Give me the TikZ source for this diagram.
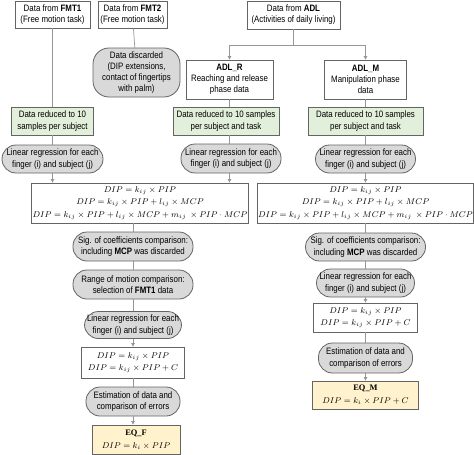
\RequirePackage{fix-cm}
\documentclass[tikz,border=0pt]{standalone}
\usepackage{fontspec}
\usepackage{amsmath}
\setmainfont{Liberation Sans}[FakeStretch=0.85]
\newfontfamily\eqfont{Liberation Serif}
\usetikzlibrary{arrows.meta,calc}

\definecolor{boxgray}{RGB}{100,100,100}
\definecolor{linegray}{RGB}{150,150,150}
\definecolor{roundgray}{RGB}{217,217,217}
\definecolor{redgreen}{RGB}{226,239,218}
\definecolor{endyellow}{RGB}{255,242,204}

\newcommand{\txt}{\fontsize{9.3}{11.2}\selectfont}
\newcommand{\eqs}{\fontsize{8.4}{12.6}\selectfont}

\begin{document}
\begin{tikzpicture}[x=1pt, y=-1pt]

        \useasboundingbox (0,0) rectangle (474,455);

        % Box styles, sizes are given with each node
        \tikzset{
            base/.style={draw=boxgray, line width=0.8pt, align=center,
                inner sep=1pt, font=\txt},
            plainbox/.style={base, fill=white},
            redbox/.style={base, fill=redgreen},
            roundbox/.style={base, fill=roundgray, rounded corners=14pt},
            eqbox/.style={base, fill=white, font=\eqs},
            endbox/.style={base, fill=endyellow, font=\eqs},
            link/.style={draw=linegray, line width=0.7pt},
            arr/.style={link, -{Triangle[length=3.5pt,width=3.5pt]}}
        }

        % Left column (FMT1 / FMT2)
        \begin{scope}
            \node[plainbox, minimum width=75, minimum height=27] (fmtA)
            at (52.5, 14.5) {Data from \textbf{FMT1}\\(Free motion task)};
            \node[plainbox, minimum width=69, minimum height=27] (fmtB)
            at (132.5, 14.5) {Data from \textbf{FMT2}\\(Free motion task)};
            \node[roundbox, rounded corners=16pt, minimum width=87,
                minimum height=49] (discard) at (136.5, 72.5)
            {Data discarded\\(DIP extensions,\\contact of fingertips\\with palm)};

            \node[redbox, minimum width=82, minimum height=28] (redA)
            at (52.5, 121) {Data reduced to 10\\samples per subject};
            \node[roundbox, minimum width=101, minimum height=28] (regA)
            at (52.5, 159) {Linear regression for each\\finger (i) and subject (j)};

            \node[eqbox, minimum width=214, minimum height=40] (eqA)
            at (140, 203)
            {$DIP = k_{ij}\times PIP$\\
             $DIP = k_{ij}\times PIP + l_{ij}\times MCP$\\
             $DIP = k_{ij}\times PIP + l_{ij}\times MCP + m_{ij}\ \times PIP\cdot MCP$};

            \node[roundbox, minimum width=120, minimum height=29] (sigA)
            at (133, 246.5)
            {Sig. of coefficients comparison:\\including \textbf{MCP} was discarded};
            \node[roundbox, minimum width=120, minimum height=29] (romA)
            at (133, 284.5)
            {Range of motion comparison:\\selection of \textbf{FMT1} data};
            \node[roundbox, minimum width=97, minimum height=27] (regA2)
            at (133, 325) {Linear regression for each\\finger (i) and subject (j)};
            \node[eqbox, minimum width=103, minimum height=31] (eqA2)
            at (133, 362.5)
            {$DIP = k_{ij}\times PIP$\\$DIP = k_{ij}\times PIP + C$};
            \node[roundbox, minimum width=94, minimum height=29] (estA)
            at (133, 401.5) {Estimation of data and\\comparison of errors};
            \node[endbox, minimum width=88, minimum height=29] (eqF)
            at (136, 439.5)
            {{\eqfont\bfseries EQ\_F}\\$DIP = k_i\times PIP$};
        \end{scope}

        % Right column (ADL)
        \begin{scope}
            \node[plainbox, minimum width=93, minimum height=28] (adl)
            at (293.5, 15) {Data from \textbf{ADL}\\(Activities of daily living)};
            \coordinate (split) at (293.5, 45);

            \node[plainbox, minimum width=87, minimum height=39] (adlR)
            at (229.5, 79.5) {\textbf{ADL\_R}\\Reaching and release\\phase data};
            \node[plainbox, minimum width=82, minimum height=39] (adlM)
            at (365.5, 79.5) {\textbf{ADL\_M}\\Manipulation phase\\data};

            \node[redbox, minimum width=106, minimum height=28] (redR)
            at (226, 121) {Data reduced to 10 samples\\per subject and task};
            \node[redbox, minimum width=115, minimum height=28] (redM)
            at (365.5, 121) {Data reduced to 10 samples\\per subject and task};

            \node[roundbox, minimum width=100, minimum height=29] (regR)
            at (231, 158.5) {Linear regression for each\\finger (i) and subject (j)};
            \node[roundbox, minimum width=100, minimum height=28] (regM)
            at (365.5, 159) {Linear regression for each\\finger (i) and subject (j)};

            \node[eqbox, minimum width=213, minimum height=40] (eqM)
            at (365.5, 203)
            {$DIP = k_{ij}\times PIP$\\
             $DIP = k_{ij}\times PIP + l_{ij}\times MCP$\\
             $DIP = k_{ij}\times PIP + l_{ij}\times MCP + m_{ij}\ \times PIP\cdot MCP$};

            \node[roundbox, minimum width=120, minimum height=28] (sigM)
            at (365.5, 247)
            {Sig. of coefficients comparison:\\including \textbf{MCP} was discarded};
            \node[roundbox, minimum width=98, minimum height=28] (regM2)
            at (365.5, 283) {Linear regression for each\\finger (i) and subject (j)};
            \node[eqbox, minimum width=104, minimum height=29] (eqM2)
            at (365.5, 317.5)
            {$DIP = k_{ij}\times PIP$\\$DIP = k_{ij}\times PIP + C$};
            \node[roundbox, minimum width=94, minimum height=30] (estM)
            at (365.5, 358) {Estimation of data and\\comparison of errors};
            \node[endbox, minimum width=106, minimum height=28] (eqM3)
            at (365.5, 395)
            {{\eqfont\bfseries EQ\_M}\\$DIP = k_i\times PIP + C$};
        \end{scope}

        \begin{scope}
            \draw[link] (fmtA) -- (redA);
            \draw[link] (fmtB) -- (discard);
            \draw[link] (redA) -- (regA);
            \draw[arr] (regA.south) -- (regA.south |- eqA.north);
            \draw[link] (sigA.north |- eqA.south) -- (sigA);
            \draw[link] (sigA) -- (romA);
            \draw[link] (romA) -- (regA2);
            \draw[arr] (regA2) -- (eqA2);
            \draw[link] (eqA2) -- (estA);
            \draw[arr] (estA.south) -- (estA.south |- eqF.north);

            \draw[link] (adl) -- (split);
            \draw[arr] (split) -| (adlR);
            \draw[arr] (split) -| (adlM);
            \draw[link] (adlR.south) -- (adlR.south |- redR.north);
            \draw[link] (adlM) -- (redM);
            \draw[link] (adlR.south |- redR.south) -- (adlR.south |- regR.north);
            \draw[link] (redM) -- (regM);
            \draw[arr] (adlR.south |- regR.south) -- (adlR.south |- eqA.north);
            \draw[arr] (regM) -- (eqM);
            \draw[link] (eqM) -- (sigM);
            \draw[link] (sigM) -- (regM2);
            \draw[arr] (regM2) -- (eqM2);
            \draw[link] (eqM2) -- (estM);
            \draw[arr] (estM) -- (eqM3);
        \end{scope}

\end{tikzpicture}
\end{document}
